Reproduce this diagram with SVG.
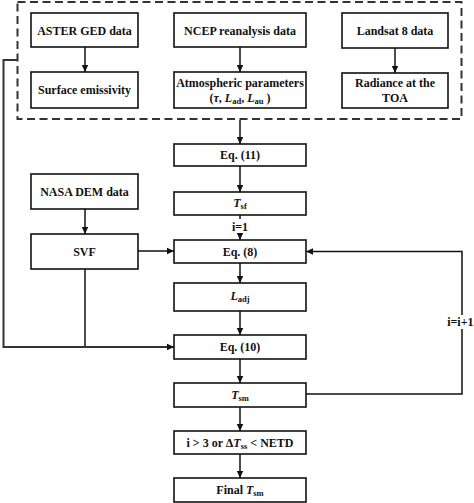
<svg xmlns="http://www.w3.org/2000/svg" width="474" height="503" viewBox="0 0 474 503">
<defs>
<marker id="ah" markerWidth="8" markerHeight="8" refX="7" refY="4" orient="auto" markerUnits="userSpaceOnUse">
<path d="M0,0.8 L7,4 L0,7.2 Z" fill="#111"/>
</marker>
<style>
.box{fill:#fff;stroke:#111;stroke-width:1.6}
.t{font-family:"Liberation Serif","Times New Roman",serif;font-weight:bold;font-size:12px;fill:#111;text-anchor:middle}
.c{fill:none;stroke:#111;stroke-width:1.5}
.i{font-style:italic}
.s{font-size:8.5px}
</style>
</defs>
<rect width="474" height="503" fill="#fff"/>
<rect x="17.5" y="2" width="444" height="117" fill="none" stroke="#333" stroke-width="2" stroke-dasharray="8,4.5"/>
<g id="connectors">
<path class="c" d="M85,47 V72" marker-end="url(#ah)"/>
<path class="c" d="M240,47 V72" marker-end="url(#ah)"/>
<path class="c" d="M395,48 V73" marker-end="url(#ah)"/>
<path class="c" d="M240,120 V144" marker-end="url(#ah)"/>
<path class="c" d="M240,166 V192" marker-end="url(#ah)"/>
<path class="c" d="M240,215 V219"/>
<path class="c" d="M240,233 V240" marker-end="url(#ah)"/>
<path class="c" d="M85,209 V234" marker-end="url(#ah)"/>
<path class="c" d="M138,251 H174" marker-end="url(#ah)"/>
<path class="c" d="M240,263 V283" marker-end="url(#ah)"/>
<path class="c" d="M240,311 V335" marker-end="url(#ah)"/>
<path class="c" d="M85,269 V347"/>
<path d="M17,60 H3.5 V347 H174" fill="none" stroke="#333" stroke-width="2" marker-end="url(#ah)"/>
<path class="c" d="M240,359 V383" marker-end="url(#ah)"/>
<path class="c" d="M240,407 V431" marker-end="url(#ah)"/>
<path class="c" d="M240,454 V478" marker-end="url(#ah)"/>
<path class="c" d="M306,394 H462 V329"/>
<path class="c" d="M462,315 V251.5 H306" marker-end="url(#ah)"/>
<text class="t" x="240" y="230.5">i=1</text>
<text class="t" x="473.5" y="326" style="text-anchor:end">i=i+1</text>
</g>
<g id="aster"><rect class="box" x="31" y="13" width="107" height="34"/><text class="t" x="84.5" y="34.5">ASTER GED data</text></g>
<g id="ncep"><rect class="box" x="174" y="13" width="132" height="34"/><text class="t" x="240" y="34.5">NCEP reanalysis data</text></g>
<g id="landsat"><rect class="box" x="342" y="13" width="106" height="35"/><text class="t" x="395" y="35">Landsat 8 data</text></g>
<g id="emis"><rect class="box" x="31" y="72" width="107" height="36"/><text class="t" x="84.5" y="94">Surface emissivity</text></g>
<g id="atmos"><rect class="box" x="174" y="72" width="132" height="36"/><text class="t" x="240" y="87">Atmospheric parameters</text><text class="t" x="240" y="102">(<tspan class="i">τ</tspan>, <tspan class="i">L</tspan><tspan class="s" dy="2">ad</tspan><tspan dy="-2">, </tspan><tspan class="i">L</tspan><tspan class="s" dy="2">au</tspan><tspan dy="-2"> )</tspan></text></g>
<g id="radiance"><rect class="box" x="342" y="73" width="106" height="35"/><text class="t" x="395" y="87">Radiance at the</text><text class="t" x="395" y="102">TOA</text></g>
<g id="eq11"><rect class="box" x="174" y="144" width="132" height="22"/><text class="t" x="240" y="159">Eq. (11)</text></g>
<g id="tsf"><rect class="box" x="174" y="192" width="132" height="23"/><text class="t" x="240" y="207"><tspan class="i">T</tspan><tspan class="s" dy="2">sf</tspan></text></g>
<g id="nasa"><rect class="box" x="31" y="174" width="107" height="35"/><text class="t" x="84.5" y="195.5">NASA DEM data</text></g>
<g id="svf"><rect class="box" x="31" y="234" width="107" height="35"/><text class="t" x="84.5" y="255.5">SVF</text></g>
<g id="eq8"><rect class="box" x="174" y="240" width="132" height="23"/><text class="t" x="240" y="255.5">Eq. (8)</text></g>
<g id="ladj"><rect class="box" x="174" y="283" width="132" height="28"/><text class="t" x="240" y="300"><tspan class="i">L</tspan><tspan class="s" dy="2">adj</tspan></text></g>
<g id="eq10"><rect class="box" x="174" y="335" width="132" height="24"/><text class="t" x="240" y="351">Eq. (10)</text></g>
<g id="tsm"><rect class="box" x="174" y="383" width="132" height="24"/><text class="t" x="240" y="398.5"><tspan class="i">T</tspan><tspan class="s" dy="2">sm</tspan></text></g>
<g id="cond"><rect class="box" x="174" y="431" width="132" height="23"/><text class="t" x="240" y="446.5">i &gt; 3 or Δ<tspan class="i">T</tspan><tspan class="s" dy="2">ss</tspan><tspan dy="-2"> &lt; NETD</tspan></text></g>
<g id="final"><rect class="box" x="174" y="478" width="132" height="24"/><text class="t" x="240" y="494">Final <tspan class="i">T</tspan><tspan class="s" dy="2">sm</tspan></text></g>
</svg>
